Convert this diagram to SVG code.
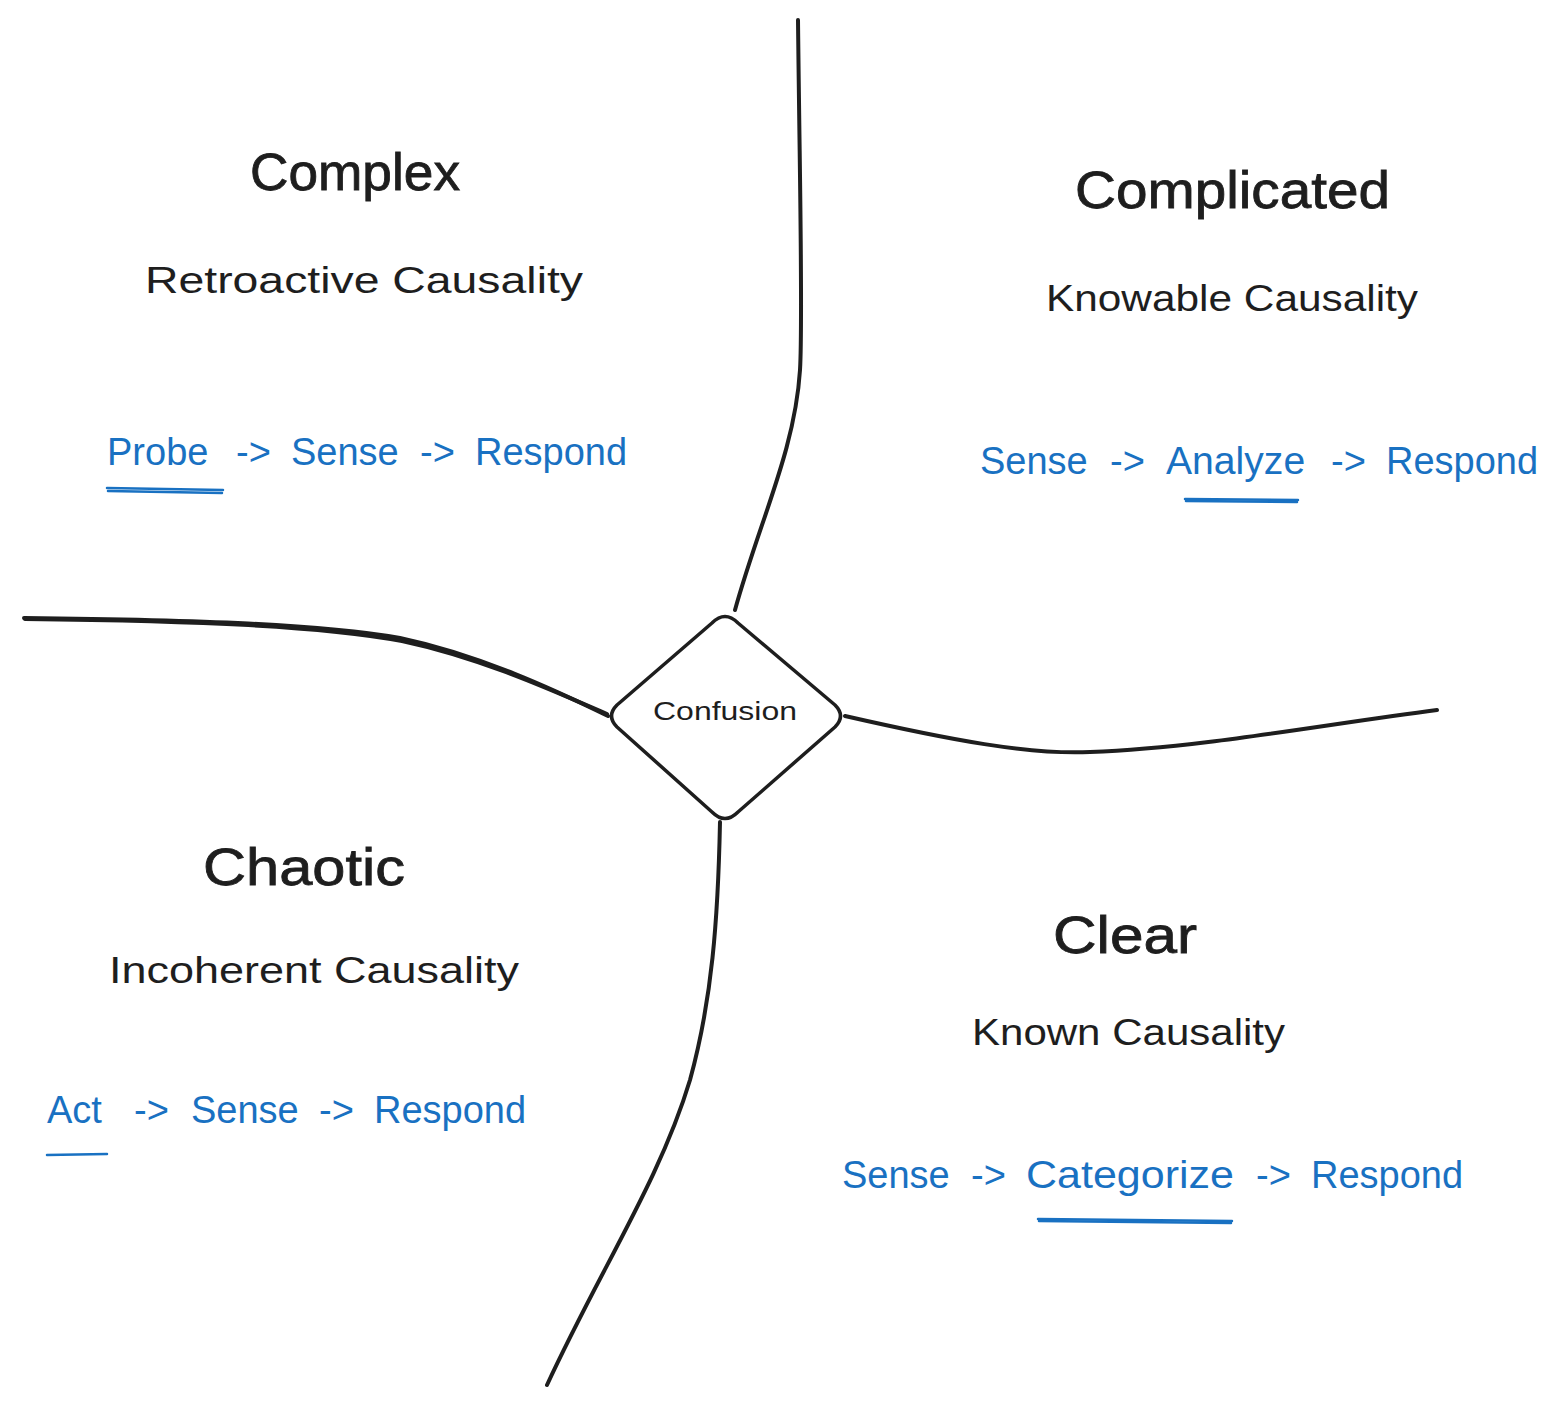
<svg xmlns="http://www.w3.org/2000/svg" width="1560" height="1405" viewBox="0 0 1560 1405">
<style>
.bg{fill:#ffffff}
.div{fill:none;stroke:#1e1e1e;stroke-width:4;stroke-linecap:round;stroke-linejoin:round}
.node{fill:#ffffff;stroke:#1e1e1e;stroke-width:3.5;stroke-linejoin:round}
.ul{fill:none;stroke:#1971c2;stroke-width:2.5;stroke-linecap:round}
text{font-family:"Liberation Sans","DejaVu Sans",sans-serif}
.title{font-size:52px;fill:#1e1e1e;stroke:#1e1e1e;stroke-width:0.8}
.sub{font-size:37px;fill:#1e1e1e}
.flow{font-size:38px;fill:#1971c2}
.conf{font-size:26px;fill:#1e1e1e}
</style>
<rect class="bg" x="0" y="0" width="1560" height="1405"/>
<g id="connectors">
<path class="div" d="M798,20 C800,200 803,320 800,370 C795,450 760,520 735,610"/>
<path class="div" d="M24,618 C200,620 320,624 400,638 C480,655 555,690 608,716"/>
<path class="div" d="M25,619 C200,621 320,626 402,641 C482,658 556,692 607,714"/>
<path class="div" d="M845,716 C950,740 1030,755 1090,752 C1200,748 1320,725 1437,710"/>
<path class="div" d="M720,822 C718,920 712,1000 690,1080 C660,1180 600,1270 547,1385"/>
</g>
<g id="confusion">
<path class="node" d="M712,623 Q725,610 738,623 L835,705 Q846,716 835,727 L738,812 Q725,825 712,812 L617,727 Q606,716 617,705 Z"/>
<text class="conf" x="653" y="720" textLength="144" lengthAdjust="spacingAndGlyphs">Confusion</text>
</g>
<g id="complex">
<text class="title" x="250" y="190" textLength="210" lengthAdjust="spacingAndGlyphs">Complex</text>
<text class="sub" x="145" y="293" textLength="438" lengthAdjust="spacingAndGlyphs">Retroactive Causality</text>
<text class="flow" y="465"><tspan x="107">Probe </tspan><tspan x="236">-&gt; </tspan><tspan x="291">Sense </tspan><tspan x="420">-&gt; </tspan><tspan x="475">Respond</tspan></text>
<path class="ul" d="M107,488 L223,490"/>
<path class="ul" d="M108,491 L222,493"/>
</g>
<g id="complicated">
<text class="title" x="1075" y="208" textLength="315" lengthAdjust="spacingAndGlyphs">Complicated</text>
<text class="sub" x="1046" y="311" textLength="372" lengthAdjust="spacingAndGlyphs">Knowable Causality</text>
<text class="flow" y="474"><tspan x="980">Sense </tspan><tspan x="1110">-&gt; </tspan><tspan x="1166" textLength="150" lengthAdjust="spacingAndGlyphs">Analyze </tspan><tspan x="1331">-&gt; </tspan><tspan x="1386">Respond</tspan></text>
<path class="ul" d="M1185,499 L1298,500"/>
<path class="ul" d="M1186,501 L1297,502"/>
</g>
<g id="chaotic">
<text class="title" x="203" y="885" textLength="202" lengthAdjust="spacingAndGlyphs">Chaotic</text>
<text class="sub" x="109" y="983" textLength="410" lengthAdjust="spacingAndGlyphs">Incoherent Causality</text>
<text class="flow" y="1123"><tspan x="47">Act </tspan><tspan x="134">-&gt; </tspan><tspan x="191">Sense </tspan><tspan x="319">-&gt; </tspan><tspan x="374">Respond</tspan></text>
<path class="ul" d="M47,1155 L107,1154"/>
</g>
<g id="clear">
<text class="title" x="1053" y="953" textLength="144" lengthAdjust="spacingAndGlyphs">Clear</text>
<text class="sub" x="972" y="1045" textLength="313" lengthAdjust="spacingAndGlyphs">Known Causality</text>
<text class="flow" y="1188"><tspan x="842">Sense </tspan><tspan x="971">-&gt; </tspan><tspan x="1026" textLength="220" lengthAdjust="spacingAndGlyphs">Categorize </tspan><tspan x="1256">-&gt; </tspan><tspan x="1311">Respond</tspan></text>
<path class="ul" d="M1038,1219 L1232,1221"/>
<path class="ul" d="M1039,1221 L1231,1223"/>
</g>
</svg>
